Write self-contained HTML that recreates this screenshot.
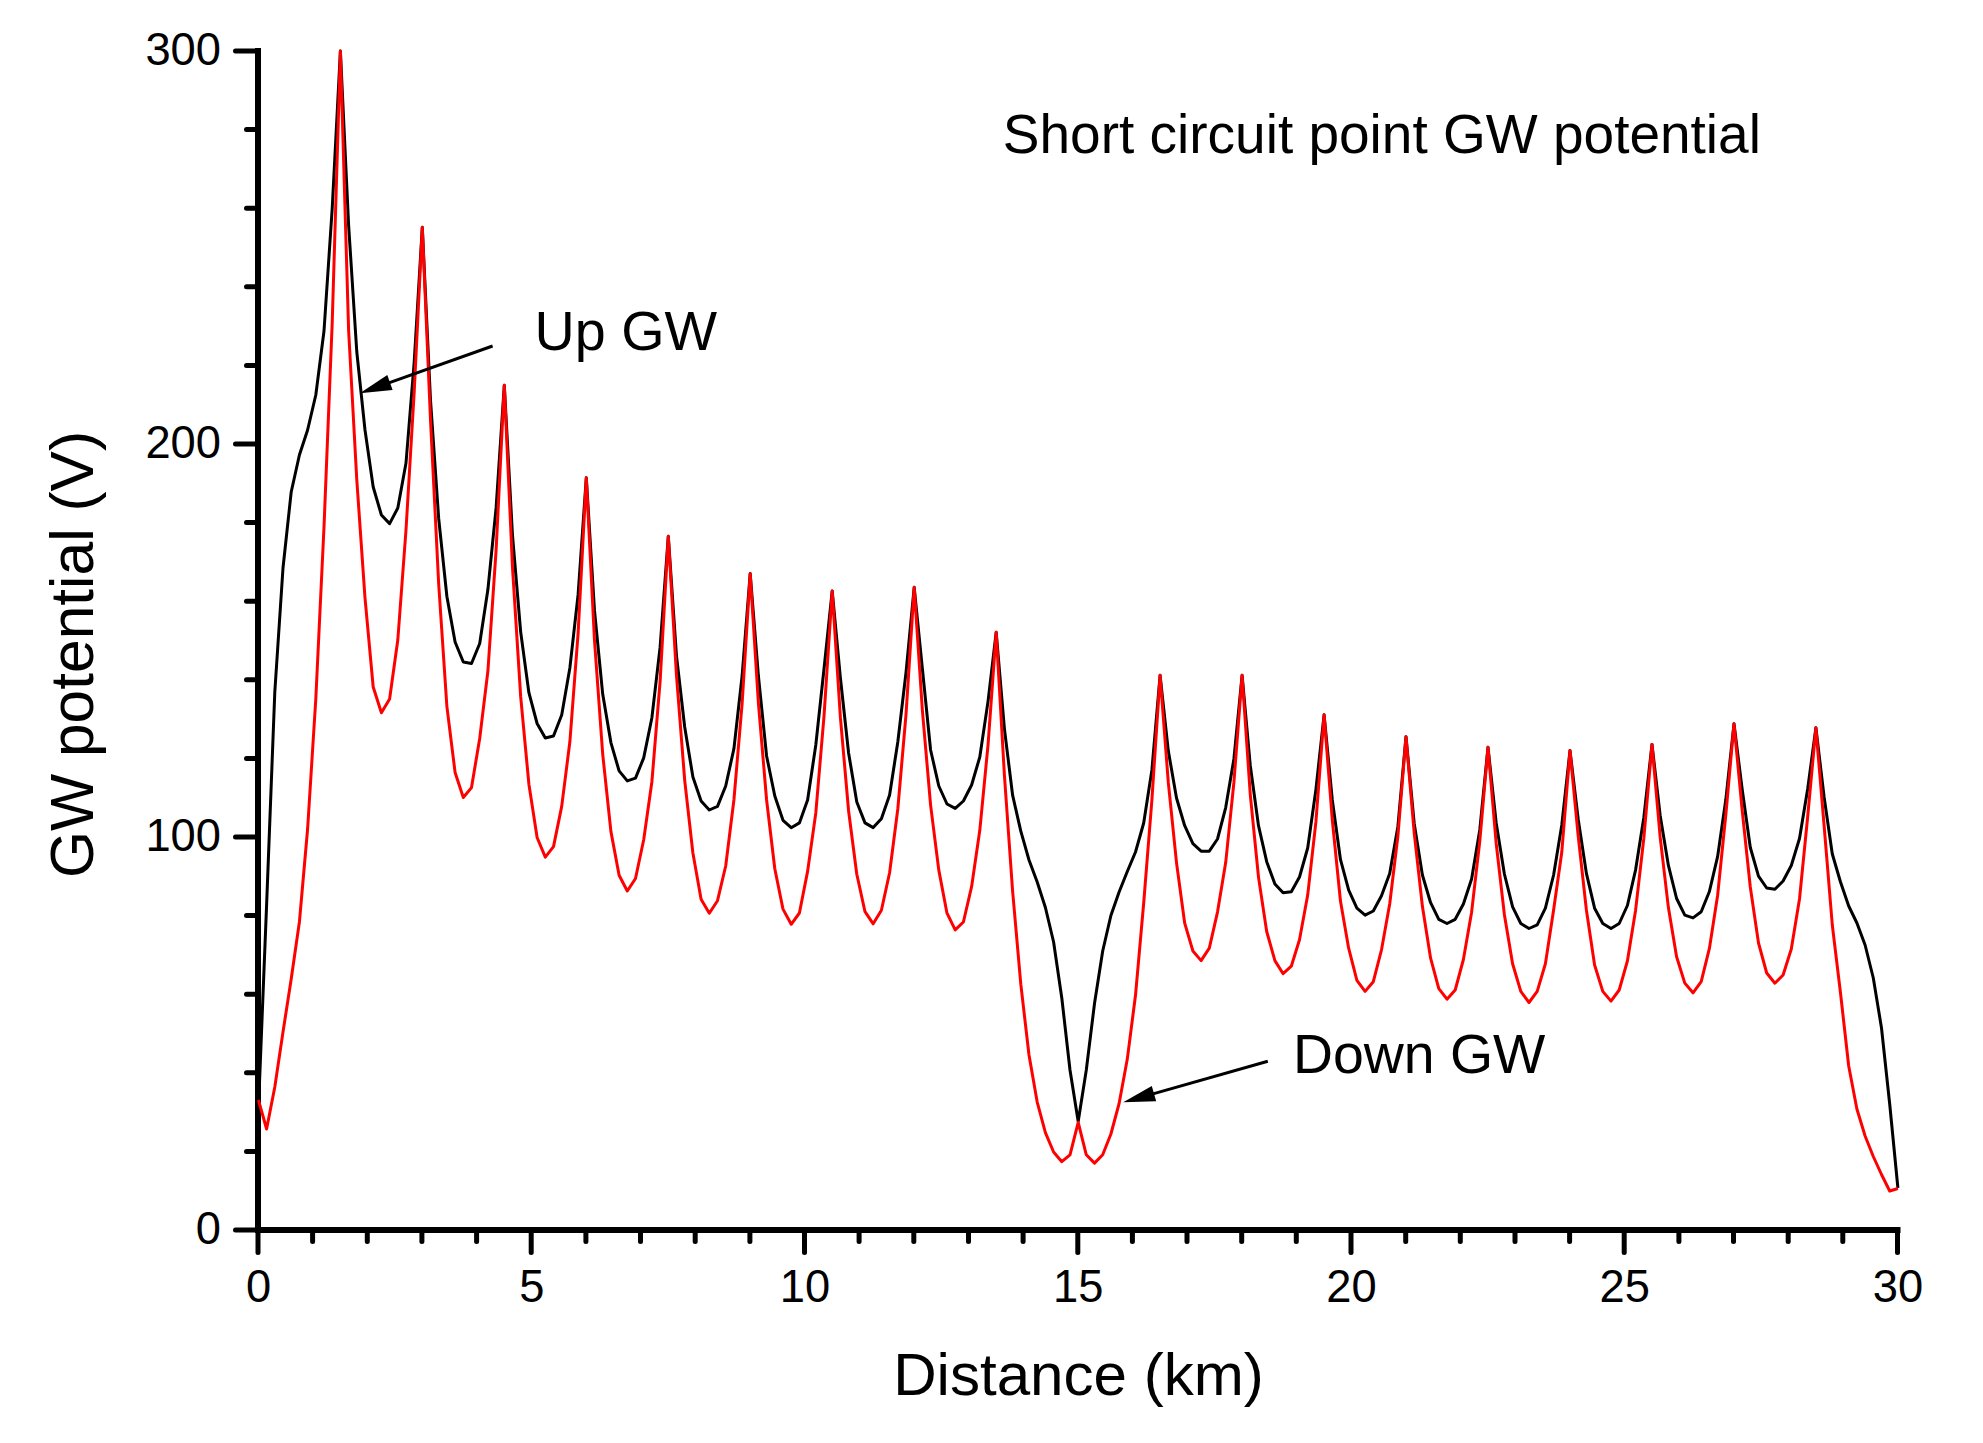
<!DOCTYPE html>
<html lang="en"><head><meta charset="utf-8"><title>Short circuit point GW potential</title>
<style>html,body{margin:0;padding:0;background:#fff}body{width:1983px;height:1443px;overflow:hidden}svg{display:block}</style></head>
<body>
<svg width="1983" height="1443" viewBox="0 0 1983 1443">
<rect width="1983" height="1443" fill="#fff"/>
<g stroke="#000" stroke-linecap="butt" fill="none">
<line x1="258.0" y1="48.0" x2="258.0" y2="1233.0" stroke-width="6"/>
<line x1="255.0" y1="1230.0" x2="1900.5" y2="1230.0" stroke-width="6"/>
<line x1="235.5" y1="1230.0" x2="258.0" y2="1230.0" stroke-width="5" stroke-linecap="round"/>
<line x1="246.5" y1="1151.4" x2="258.0" y2="1151.4" stroke-width="5" stroke-linecap="round"/>
<line x1="246.5" y1="1072.8" x2="258.0" y2="1072.8" stroke-width="5" stroke-linecap="round"/>
<line x1="246.5" y1="994.2" x2="258.0" y2="994.2" stroke-width="5" stroke-linecap="round"/>
<line x1="246.5" y1="915.6" x2="258.0" y2="915.6" stroke-width="5" stroke-linecap="round"/>
<line x1="235.5" y1="837.0" x2="258.0" y2="837.0" stroke-width="5" stroke-linecap="round"/>
<line x1="246.5" y1="758.4" x2="258.0" y2="758.4" stroke-width="5" stroke-linecap="round"/>
<line x1="246.5" y1="679.8" x2="258.0" y2="679.8" stroke-width="5" stroke-linecap="round"/>
<line x1="246.5" y1="601.2" x2="258.0" y2="601.2" stroke-width="5" stroke-linecap="round"/>
<line x1="246.5" y1="522.6" x2="258.0" y2="522.6" stroke-width="5" stroke-linecap="round"/>
<line x1="235.5" y1="444.0" x2="258.0" y2="444.0" stroke-width="5" stroke-linecap="round"/>
<line x1="246.5" y1="365.4" x2="258.0" y2="365.4" stroke-width="5" stroke-linecap="round"/>
<line x1="246.5" y1="286.8" x2="258.0" y2="286.8" stroke-width="5" stroke-linecap="round"/>
<line x1="246.5" y1="208.2" x2="258.0" y2="208.2" stroke-width="5" stroke-linecap="round"/>
<line x1="246.5" y1="129.6" x2="258.0" y2="129.6" stroke-width="5" stroke-linecap="round"/>
<line x1="235.5" y1="51.0" x2="258.0" y2="51.0" stroke-width="5" stroke-linecap="round"/>
<line x1="258.0" y1="1230.0" x2="258.0" y2="1252.5" stroke-width="5" stroke-linecap="round"/>
<line x1="312.6" y1="1230.0" x2="312.6" y2="1241.5" stroke-width="5" stroke-linecap="round"/>
<line x1="367.3" y1="1230.0" x2="367.3" y2="1241.5" stroke-width="5" stroke-linecap="round"/>
<line x1="421.9" y1="1230.0" x2="421.9" y2="1241.5" stroke-width="5" stroke-linecap="round"/>
<line x1="476.6" y1="1230.0" x2="476.6" y2="1241.5" stroke-width="5" stroke-linecap="round"/>
<line x1="531.2" y1="1230.0" x2="531.2" y2="1252.5" stroke-width="5" stroke-linecap="round"/>
<line x1="585.9" y1="1230.0" x2="585.9" y2="1241.5" stroke-width="5" stroke-linecap="round"/>
<line x1="640.5" y1="1230.0" x2="640.5" y2="1241.5" stroke-width="5" stroke-linecap="round"/>
<line x1="695.2" y1="1230.0" x2="695.2" y2="1241.5" stroke-width="5" stroke-linecap="round"/>
<line x1="749.9" y1="1230.0" x2="749.9" y2="1241.5" stroke-width="5" stroke-linecap="round"/>
<line x1="804.5" y1="1230.0" x2="804.5" y2="1252.5" stroke-width="5" stroke-linecap="round"/>
<line x1="859.1" y1="1230.0" x2="859.1" y2="1241.5" stroke-width="5" stroke-linecap="round"/>
<line x1="913.8" y1="1230.0" x2="913.8" y2="1241.5" stroke-width="5" stroke-linecap="round"/>
<line x1="968.5" y1="1230.0" x2="968.5" y2="1241.5" stroke-width="5" stroke-linecap="round"/>
<line x1="1023.1" y1="1230.0" x2="1023.1" y2="1241.5" stroke-width="5" stroke-linecap="round"/>
<line x1="1077.8" y1="1230.0" x2="1077.8" y2="1252.5" stroke-width="5" stroke-linecap="round"/>
<line x1="1132.4" y1="1230.0" x2="1132.4" y2="1241.5" stroke-width="5" stroke-linecap="round"/>
<line x1="1187.0" y1="1230.0" x2="1187.0" y2="1241.5" stroke-width="5" stroke-linecap="round"/>
<line x1="1241.7" y1="1230.0" x2="1241.7" y2="1241.5" stroke-width="5" stroke-linecap="round"/>
<line x1="1296.3" y1="1230.0" x2="1296.3" y2="1241.5" stroke-width="5" stroke-linecap="round"/>
<line x1="1351.0" y1="1230.0" x2="1351.0" y2="1252.5" stroke-width="5" stroke-linecap="round"/>
<line x1="1405.7" y1="1230.0" x2="1405.7" y2="1241.5" stroke-width="5" stroke-linecap="round"/>
<line x1="1460.3" y1="1230.0" x2="1460.3" y2="1241.5" stroke-width="5" stroke-linecap="round"/>
<line x1="1515.0" y1="1230.0" x2="1515.0" y2="1241.5" stroke-width="5" stroke-linecap="round"/>
<line x1="1569.6" y1="1230.0" x2="1569.6" y2="1241.5" stroke-width="5" stroke-linecap="round"/>
<line x1="1624.2" y1="1230.0" x2="1624.2" y2="1252.5" stroke-width="5" stroke-linecap="round"/>
<line x1="1678.9" y1="1230.0" x2="1678.9" y2="1241.5" stroke-width="5" stroke-linecap="round"/>
<line x1="1733.5" y1="1230.0" x2="1733.5" y2="1241.5" stroke-width="5" stroke-linecap="round"/>
<line x1="1788.2" y1="1230.0" x2="1788.2" y2="1241.5" stroke-width="5" stroke-linecap="round"/>
<line x1="1842.8" y1="1230.0" x2="1842.8" y2="1241.5" stroke-width="5" stroke-linecap="round"/>
<line x1="1897.5" y1="1230.0" x2="1897.5" y2="1252.5" stroke-width="5" stroke-linecap="round"/>
</g>
<polyline fill="none" stroke="#000" stroke-width="3" stroke-linejoin="round" stroke-linecap="butt" points="258.4,1110.0 266.6,905.0 274.8,692.0 283.0,568.0 291.2,492.0 299.4,455.0 307.6,430.0 315.8,395.0 324.0,331.0 332.2,208.6 340.4,51.1 348.6,225.0 356.8,352.0 365.0,430.0 373.2,487.0 381.4,515.0 389.6,523.6 397.8,508.0 406.0,463.0 414.2,362.0 422.3,227.3 430.5,400.1 438.7,518.7 446.9,596.5 455.1,642.0 463.3,662.0 471.5,663.5 479.7,643.5 487.9,589.6 496.1,507.9 504.3,385.3 512.5,535.5 520.7,632.1 528.9,692.7 537.1,723.5 545.3,738.0 553.5,736.0 561.7,715.0 569.9,667.7 578.1,594.7 586.3,477.8 594.5,610.7 602.7,694.1 610.9,742.6 619.1,770.9 627.3,780.9 635.5,778.1 643.7,757.9 651.9,717.7 660.1,647.2 668.3,536.3 676.5,656.0 684.7,727.0 692.9,777.0 701.1,801.0 709.3,810.0 717.5,806.4 725.7,786.0 733.9,748.8 742.1,676.0 750.2,573.6 758.4,676.0 766.6,756.0 774.8,796.0 783.0,820.3 791.2,827.7 799.4,822.9 807.6,800.0 815.8,745.0 824.0,669.0 832.2,591.0 840.4,678.0 848.6,753.0 856.8,802.0 865.0,822.9 873.2,827.6 881.4,818.7 889.6,795.0 897.8,742.0 906.0,672.6 914.2,587.3 922.4,669.0 930.6,750.0 938.8,786.0 947.0,804.0 955.2,808.4 963.4,801.0 971.6,785.0 979.8,757.0 988.0,701.6 996.2,632.3 1004.4,728.6 1012.6,795.2 1020.8,831.2 1029.0,860.0 1037.2,882.0 1045.4,907.5 1053.6,942.0 1061.8,998.0 1070.0,1070.0 1078.2,1121.5 1086.3,1070.0 1094.5,1003.6 1102.7,951.0 1110.9,915.5 1119.1,892.0 1127.3,871.5 1135.5,852.0 1143.7,823.0 1151.9,770.0 1160.1,675.3 1168.3,750.8 1176.5,798.0 1184.7,825.7 1192.9,843.7 1201.1,851.2 1209.3,851.2 1217.5,839.0 1225.7,807.6 1233.9,759.0 1242.1,675.3 1250.3,765.7 1258.5,825.7 1266.7,861.7 1274.9,883.9 1283.1,892.8 1291.3,891.7 1299.5,877.0 1307.7,848.0 1315.9,789.6 1324.1,714.8 1332.3,800.0 1340.5,859.7 1348.7,890.2 1356.9,908.2 1365.1,915.2 1373.3,911.0 1381.5,895.8 1389.7,873.6 1397.9,826.4 1406.0,736.7 1414.2,823.5 1422.4,875.0 1430.6,902.7 1438.8,919.3 1447.0,923.5 1455.2,919.3 1463.4,904.0 1471.6,879.0 1479.8,829.7 1488.0,747.3 1496.2,823.0 1504.4,874.0 1512.6,906.8 1520.8,923.5 1529.0,928.5 1537.2,924.9 1545.4,908.2 1553.6,875.0 1561.8,825.0 1570.0,750.6 1578.2,819.3 1586.4,873.4 1594.6,908.2 1602.8,923.5 1611.0,928.5 1619.2,923.5 1627.4,905.5 1635.6,869.8 1643.8,817.7 1652.0,744.5 1660.2,815.7 1668.4,865.4 1676.6,898.5 1684.8,915.2 1693.0,917.9 1701.2,911.8 1709.4,891.5 1717.6,856.7 1725.8,799.8 1734.0,723.8 1742.1,788.8 1750.3,847.5 1758.5,876.2 1766.7,888.0 1774.9,889.3 1783.1,881.0 1791.3,865.5 1799.5,838.5 1807.7,788.8 1815.9,727.8 1824.1,797.0 1832.3,854.0 1840.5,882.0 1848.7,906.0 1856.9,923.0 1865.1,945.0 1873.3,978.0 1881.5,1028.0 1889.7,1104.0 1897.9,1188.0"/>
<polyline fill="none" stroke="#f00" stroke-width="3" stroke-linejoin="round" stroke-linecap="butt" points="258.4,1100.0 266.6,1129.0 274.8,1087.0 283.0,1032.0 291.2,979.0 299.4,922.0 307.6,829.0 315.8,699.0 324.0,527.0 332.2,323.0 340.4,51.1 348.6,330.0 356.8,480.0 365.0,597.8 373.2,687.0 381.4,712.8 389.6,699.0 397.8,640.0 406.0,530.0 414.2,392.0 422.3,227.3 430.5,420.0 438.7,584.2 446.9,706.6 455.1,772.5 463.3,797.5 471.5,787.6 479.7,738.5 487.9,671.0 496.1,550.1 504.3,385.3 512.5,567.6 520.7,696.9 528.9,784.2 537.1,837.5 545.3,857.2 553.5,846.6 561.7,806.4 569.9,741.5 578.1,633.3 586.3,477.8 594.5,640.5 602.7,754.1 610.9,831.4 619.1,875.2 627.3,891.0 635.5,878.5 643.7,839.7 651.9,781.7 660.1,681.4 668.3,536.3 676.5,675.7 684.7,780.3 692.9,853.0 701.1,899.3 709.3,913.2 717.5,900.7 725.7,866.0 733.9,800.0 742.1,703.9 750.2,573.6 758.4,703.1 766.6,800.0 774.8,868.7 783.0,909.1 791.2,924.3 799.4,913.0 807.6,871.4 815.8,813.0 824.0,716.3 832.2,591.0 840.4,717.4 848.6,811.0 856.8,874.2 865.0,911.7 873.2,923.8 881.4,910.3 889.6,872.8 897.8,809.0 906.0,714.6 914.2,587.3 922.4,710.7 930.6,805.1 938.8,870.1 947.0,913.2 955.2,929.9 963.4,922.0 971.6,886.7 979.8,830.3 988.0,745.3 996.2,632.3 1004.4,775.0 1012.6,891.0 1020.8,984.2 1029.0,1055.0 1037.2,1102.1 1045.4,1132.6 1053.6,1152.0 1061.8,1161.7 1070.0,1154.8 1078.2,1122.3 1086.3,1154.8 1094.5,1163.1 1102.7,1154.8 1110.9,1134.0 1119.1,1103.5 1127.3,1059.1 1135.5,995.3 1143.7,903.0 1151.9,800.0 1160.1,675.3 1168.3,782.4 1176.5,862.6 1184.7,923.2 1192.9,951.0 1201.1,960.6 1209.3,948.2 1217.5,912.1 1225.7,862.6 1233.9,782.4 1242.1,675.3 1250.3,794.8 1258.5,877.1 1266.7,931.5 1274.9,960.6 1283.1,973.7 1291.3,966.2 1299.5,939.8 1307.7,895.1 1315.9,821.9 1324.1,714.8 1332.3,820.0 1340.5,901.3 1348.7,948.4 1356.9,980.3 1365.1,991.4 1373.3,981.7 1381.5,949.8 1389.7,904.0 1397.9,836.0 1406.0,736.7 1414.2,832.9 1422.4,906.3 1430.6,958.2 1438.8,988.7 1447.0,999.2 1455.2,990.0 1463.4,959.5 1471.6,912.2 1479.8,841.1 1488.0,747.3 1496.2,843.5 1504.4,914.7 1512.6,963.7 1520.8,991.4 1529.0,1002.5 1537.2,991.4 1545.4,963.7 1553.6,910.0 1561.8,852.0 1570.0,750.6 1578.2,836.0 1586.4,910.0 1594.6,965.0 1602.8,991.4 1611.0,1001.1 1619.2,990.0 1627.4,961.0 1635.6,910.2 1643.8,838.5 1652.0,744.5 1660.2,837.4 1668.4,907.6 1676.6,956.8 1684.8,983.1 1693.0,992.8 1701.2,981.7 1709.4,948.4 1717.6,895.5 1725.8,815.0 1734.0,723.8 1742.1,809.6 1750.3,887.0 1758.5,943.0 1766.7,973.0 1774.9,983.2 1783.1,975.0 1791.3,949.0 1799.5,899.0 1807.7,816.5 1815.9,727.8 1824.1,825.5 1832.3,925.0 1840.5,993.0 1848.7,1066.0 1856.9,1109.0 1865.1,1136.0 1873.3,1156.5 1881.5,1174.5 1889.7,1191.0 1897.9,1188.5"/>
<line x1="492.6" y1="346.0" x2="388.1" y2="383.2" stroke="#000" stroke-width="3"/>
<polygon fill="#000" points="359.8,393.3 387.3,375.0 392.6,390.1"/>
<line x1="1267.8" y1="1061.3" x2="1152.1" y2="1094.1" stroke="#000" stroke-width="3"/>
<polygon fill="#000" points="1123.2,1102.3 1151.8,1085.9 1156.2,1101.3"/>
<text x="221" y="1243.6" font-size="45.3" text-anchor="end" font-family="Liberation Sans, Arial, Helvetica, sans-serif" fill="#000">0</text>
<text x="221" y="850.6" font-size="45.3" text-anchor="end" font-family="Liberation Sans, Arial, Helvetica, sans-serif" fill="#000">100</text>
<text x="221" y="457.6" font-size="45.3" text-anchor="end" font-family="Liberation Sans, Arial, Helvetica, sans-serif" fill="#000">200</text>
<text x="221" y="64.6" font-size="45.3" text-anchor="end" font-family="Liberation Sans, Arial, Helvetica, sans-serif" fill="#000">300</text>
<text x="258.5" y="1301.8" font-size="45.3" text-anchor="middle" font-family="Liberation Sans, Arial, Helvetica, sans-serif" fill="#000">0</text>
<text x="531.8" y="1301.8" font-size="45.3" text-anchor="middle" font-family="Liberation Sans, Arial, Helvetica, sans-serif" fill="#000">5</text>
<text x="805.0" y="1301.8" font-size="45.3" text-anchor="middle" font-family="Liberation Sans, Arial, Helvetica, sans-serif" fill="#000">10</text>
<text x="1078.2" y="1301.8" font-size="45.3" text-anchor="middle" font-family="Liberation Sans, Arial, Helvetica, sans-serif" fill="#000">15</text>
<text x="1351.5" y="1301.8" font-size="45.3" text-anchor="middle" font-family="Liberation Sans, Arial, Helvetica, sans-serif" fill="#000">20</text>
<text x="1624.8" y="1301.8" font-size="45.3" text-anchor="middle" font-family="Liberation Sans, Arial, Helvetica, sans-serif" fill="#000">25</text>
<text x="1898.0" y="1301.8" font-size="45.3" text-anchor="middle" font-family="Liberation Sans, Arial, Helvetica, sans-serif" fill="#000">30</text>
<text x="1002.8" y="152.6" font-size="55" font-family="Liberation Sans, Arial, Helvetica, sans-serif" fill="#000">Short circuit point GW potential</text>
<text x="534.6" y="349.9" font-size="55.7" font-family="Liberation Sans, Arial, Helvetica, sans-serif" fill="#000">Up GW</text>
<text x="1293" y="1072.6" font-size="55.4" font-family="Liberation Sans, Arial, Helvetica, sans-serif" fill="#000">Down GW</text>
<text x="1078.5" y="1394.8" font-size="60.1" text-anchor="middle" font-family="Liberation Sans, Arial, Helvetica, sans-serif" fill="#000">Distance (km)</text>
<text transform="translate(92.7,654.5) rotate(-90)" font-size="60.5" text-anchor="middle" font-family="Liberation Sans, Arial, Helvetica, sans-serif" fill="#000">GW potential (V)</text>
</svg>
</body></html>
